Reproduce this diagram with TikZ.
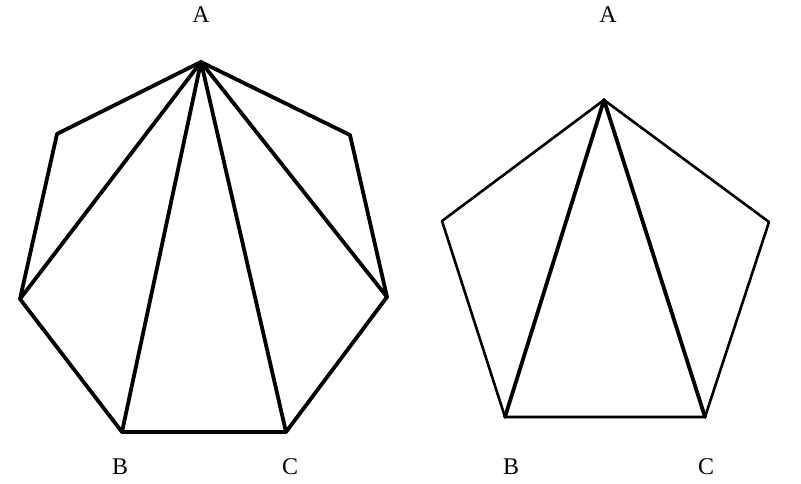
\documentclass[tikz,border=0pt]{standalone}
\usepackage{fontspec}
\setmainfont{Liberation Serif}
\usepackage{tikz}
\usetikzlibrary{shapes}

\begin{document}
\begin{tikzpicture}[line join=round,line cap=round,
  heavy/.style={line width=3.8bp},
  light/.style={line width=2.6bp},
  lbl/.style={font=\fontsize{24}{28}\selectfont,inner sep=0pt}]
\useasboundingbox (0bp,0bp) rectangle (801bp,484bp);
%% heptagon
\coordinate (hA) at (201bp,422bp);
  \coordinate (h1) at (350bp,349bp);
  \coordinate (h2) at (387bp,187bp);
  \coordinate (hC) at (286bp,52bp);
  \coordinate (hB) at (122bp,52bp);
  \coordinate (h5) at (20bp,185bp);
  \coordinate (h6) at (57bp,350bp);
  \draw [heavy] (hA) -- (h1) -- (h2) -- (hC) -- (hB) -- (h5) -- (h6) -- cycle;
  \draw [heavy] (hA) -- (h2);
  \draw [heavy] (hA) -- (hC);
  \draw [heavy] (hA) -- (hB);
  \draw [heavy] (hA) -- (h5);
  \node (hlA) at (201bp,469bp) [lbl] {A};
  \node (hlB) at (120bp,17bp) [lbl] {B};
  \node (hlC) at (290bp,17bp) [lbl] {C};
%% pentagon
\coordinate (pA) at (604bp,384bp);
  \coordinate (p1) at (769bp,262bp);
  \coordinate (pC) at (705bp,67bp);
  \coordinate (pB) at (505bp,67bp);
  \coordinate (p4) at (442bp,263bp);
  \draw [light] (pA) -- (p1) -- (pC) -- (pB) -- (p4) -- cycle;
  \draw [heavy] (pA) -- (pC);
  \draw [heavy] (pA) -- (pB);
  \node (plA) at (608bp,469bp) [lbl] {A};
  \node (plB) at (511bp,17bp) [lbl] {B};
  \node (plC) at (706bp,17bp) [lbl] {C};
%
\end{tikzpicture}
\end{document}
